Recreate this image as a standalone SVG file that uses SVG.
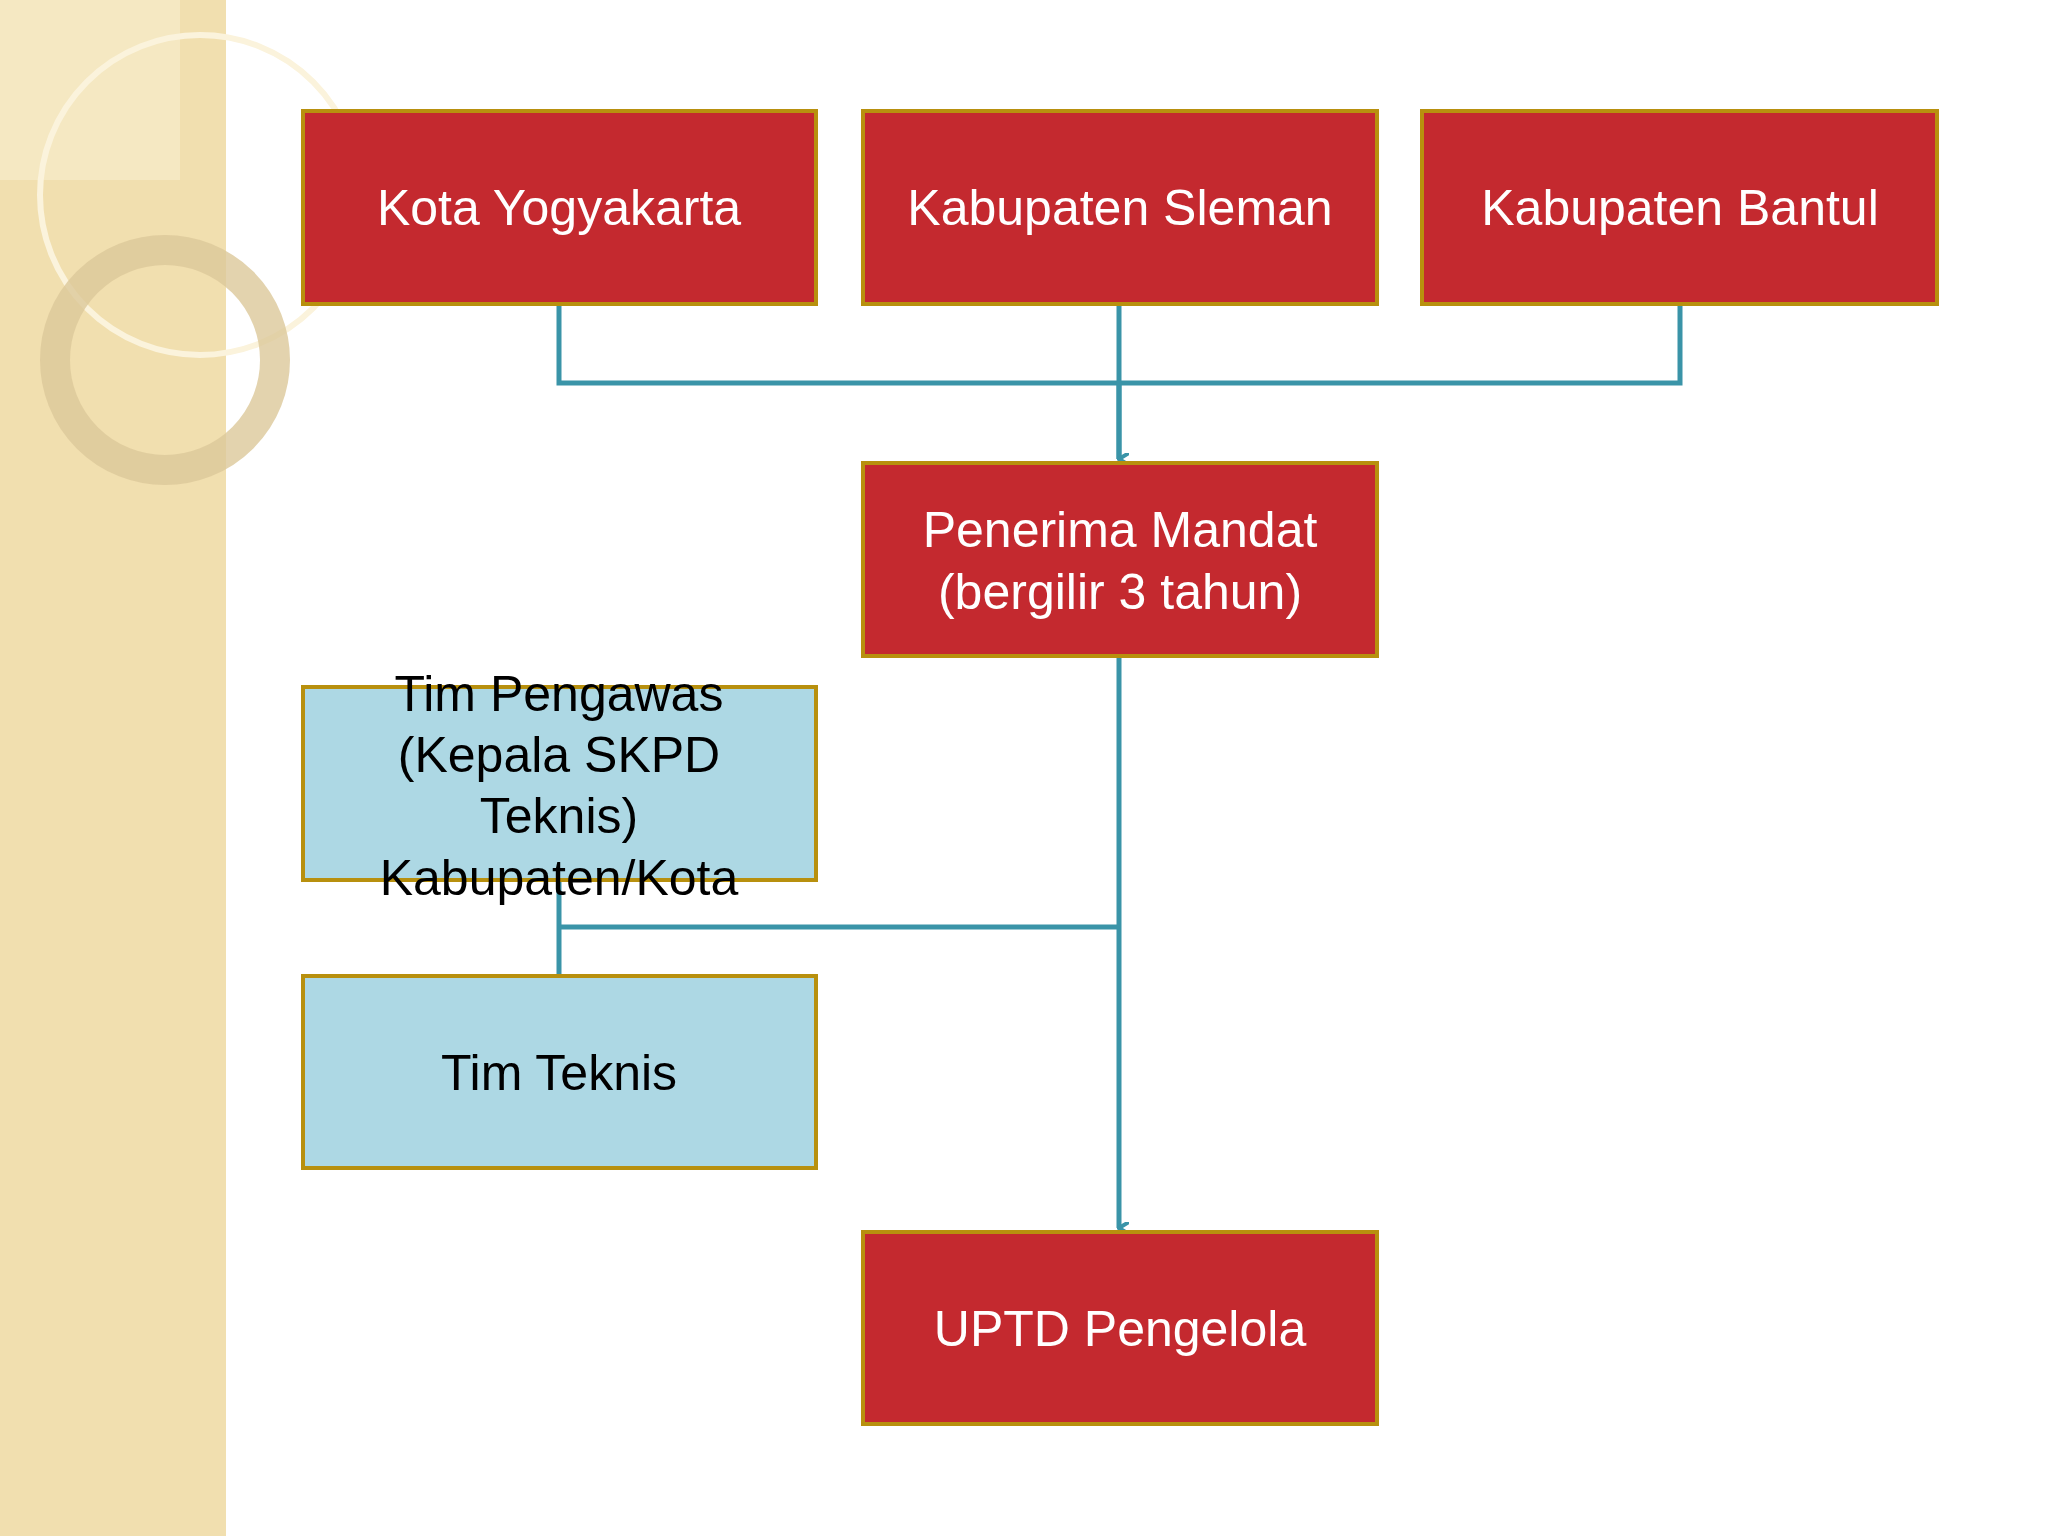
<svg xmlns="http://www.w3.org/2000/svg" width="2048" height="1536" viewBox="0 0 2048 1536">
<style>
.r{fill:#C4292F;stroke:#B8900E;stroke-width:4}
.b{fill:#ADD8E4;stroke:#B8900E;stroke-width:4}
.tw{font-family:"Liberation Sans",Arial,sans-serif;font-size:50px;fill:#fff;text-anchor:middle;dominant-baseline:central}
.tk{font-family:"Liberation Sans",Arial,sans-serif;font-size:50px;fill:#000;text-anchor:middle;dominant-baseline:central}
.c{fill:none;stroke:#3A94A8;stroke-width:5}
</style>
<defs><marker id="a" markerWidth="12" markerHeight="12" refX="6" refY="10" orient="auto" markerUnits="userSpaceOnUse" viewBox="0 0 12 12"><path d="M0,0 L6,10 L12,0" fill="none" stroke="#3A94A8" stroke-width="4"/></marker></defs>
<rect width="2048" height="1536" fill="#fff"/>
<rect width="226" height="1536" fill="#F1DFAF"/>
<rect x="0" y="0" width="180" height="180" fill="#F6EBCB" opacity="0.7"/>
<circle cx="200" cy="195" r="160" fill="none" stroke="#FBF3DC" stroke-width="6"/>
<circle cx="165" cy="360" r="110" fill="none" stroke="#DCC89A" stroke-width="30" opacity="0.8"/>
<g id="connectors">
<path class="c" d="M559,304 V383 H1680 V304 M1119,304 V459" />
<path class="c" d="M1119,383 V459" marker-end="url(#a)"/>
<path class="c" d="M1119,656 V1228" marker-end="url(#a)"/>
<path class="c" d="M559,880 V976 M559,927 H1119"/>
</g>
<g id="kota"><rect class="r" x="303" y="111" width="513" height="193"/><text class="tw" x="559" y="208">Kota Yogyakarta</text></g>
<g id="sleman"><rect class="r" x="863" y="111" width="514" height="193"/><text class="tw" x="1120" y="208">Kabupaten Sleman</text></g>
<g id="bantul"><rect class="r" x="1422" y="111" width="515" height="193"/><text class="tw" x="1680" y="208">Kabupaten Bantul</text></g>
<g id="penerima"><rect class="r" x="863" y="463" width="514" height="193"/><text class="tw" x="1120" y="530">Penerima Mandat</text><text class="tw" x="1120" y="592">(bergilir 3 tahun)</text></g>
<g id="pengawas"><rect class="b" x="303" y="687" width="513" height="193"/><text class="tk" x="559" y="694">Tim Pengawas</text><text class="tk" x="559" y="755">(Kepala SKPD</text><text class="tk" x="559" y="816">Teknis)</text><text class="tk" x="559" y="878">Kabupaten/Kota</text></g>
<g id="teknis"><rect class="b" x="303" y="976" width="513" height="192"/><text class="tk" x="559" y="1073">Tim Teknis</text></g>
<g id="uptd"><rect class="r" x="863" y="1232" width="514" height="192"/><text class="tw" x="1120" y="1329">UPTD Pengelola</text></g>
</svg>
